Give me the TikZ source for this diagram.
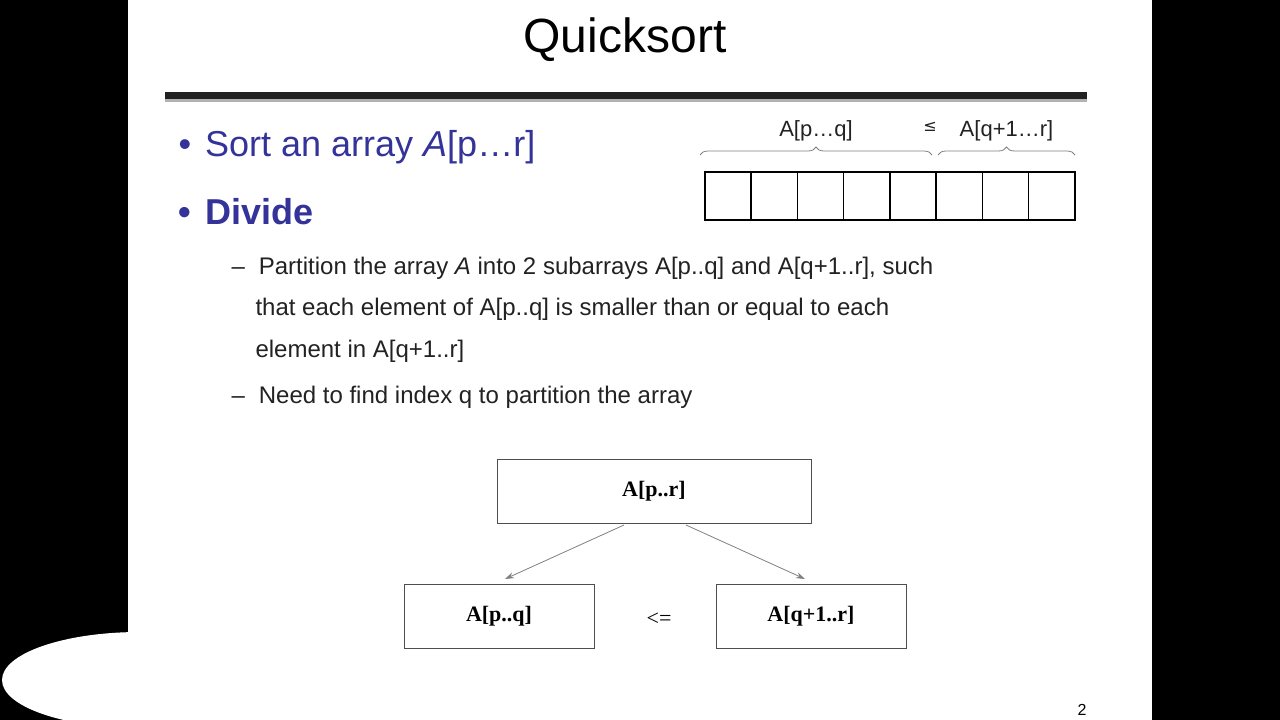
\documentclass[tikz,border=0pt]{standalone}
\usepackage{fontspec}
\setmainfont{Liberation Sans}
\newfontfamily\serifb{Liberation Serif}
\newfontfamily\djv{DejaVu Sans}
\usetikzlibrary{decorations.pathreplacing,arrows.meta}
\definecolor{navy}{HTML}{333399}
\definecolor{dk}{HTML}{222222}
\tikzset{
 treebox/.style={draw=dk!80,line width=0.8pt,minimum height=64pt,font=\fontsize{22}{24}\selectfont\serifb\bfseries},
 cell/.style={draw=black,line width=1.5pt,minimum width=46.25pt,minimum height=48pt},
 arr/.style={draw=gray,line width=0.8pt,-{Stealth[length=9pt,width=6pt]}},
 brace/.style={draw=gray,line width=0.8pt,decorate,decoration={brace,amplitude=8pt}},
 sub/.style={anchor=west,font=\fontsize{24}{40}\selectfont,text=dk}
}
\begin{document}
\begin{tikzpicture}[x=1pt,y=-1pt]
\fill[black] (0,0) rectangle (1280,720);
\fill[white] (128,0) rectangle (1152,720);
\useasboundingbox (0,0) rectangle (1280,720);
\fill[white] (140,680) ellipse (138 and 48);
\node[font=\fontsize{48}{50}\selectfont] (title) at (625,40) {Quicksort};
\fill[dk] (165,92) rectangle (1087,99);
\fill[gray!60] (165,99) rectangle (1087,102);
\node[anchor=west,font=\fontsize{36}{40}\selectfont,text=navy] (b1) at (175,147) {\textbullet\hspace{14pt}Sort an array \textit{A}[p…r]};
\node[anchor=west,font=\fontsize{36}{40}\selectfont\bfseries,text=navy] (b2) at (175,212) {\textbullet\hspace{14pt}Divide};
\node[sub] (s1) at (228,268) {–\hspace{14pt}Partition the array \textit{A} into 2 subarrays A[p..q] and A[q+1..r], such};
\node[sub] (s2) at (252,309) {that each element of A[p..q] is smaller than or equal to each};
\node[sub] (s3) at (252,351) {element in A[q+1..r]};
\node[sub] (s4) at (228,397) {–\hspace{14pt}Need to find index q to partition the array};
% array
\foreach \i in {0,...,7} \node[cell] (c\i) at (728.1+46.25*\i,196) {};
\draw[brace] (700,155) -- (932,155) node[midway,above=10pt,font=\fontsize{22}{24}\selectfont,text=dk] (l1) {A[p…q]};
\draw[brace] (938,155) -- (1075,155) node[midway,above=10pt,font=\fontsize{22}{24}\selectfont,text=dk] (l2) {A[q+1…r]};
\node[font=\fontsize{16}{18}\selectfont\djv,text=dk] (le) at (930,127) {≤};
% tree
\node[treebox,minimum width=314pt] (top) at (654,491) {A[p..r]};
\node[treebox,minimum width=190pt] (L) at (499,616) {A[p..q]};
\node[treebox,minimum width=190pt] (R) at (811,616) {A[q+1..r]};
\node[font=\fontsize{22}{24}\selectfont\serifb] (le2) at (659,619) {<=};
\draw[arr] (624,525) -- (505,579);
\draw[arr] (686,525) -- (805,579);
\node[font=\fontsize{16}{18}\selectfont] (pg) at (1082,710) {2};
\end{tikzpicture}
\end{document}
